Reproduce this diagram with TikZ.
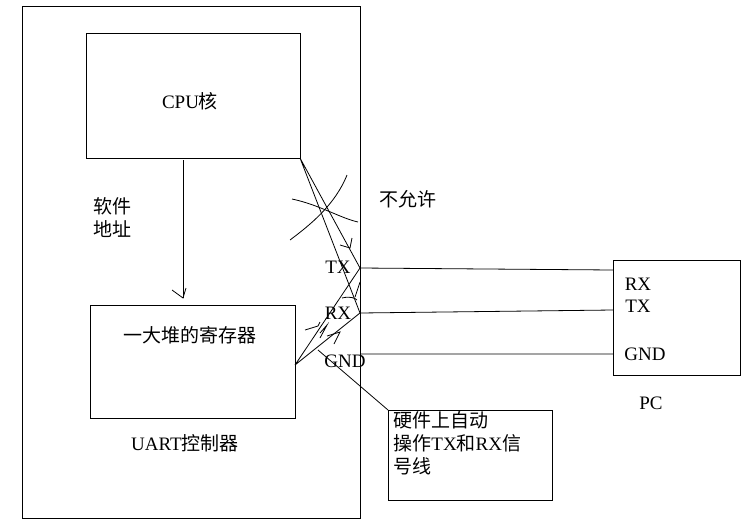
\documentclass[tikz,border=0pt]{standalone}
\usepackage{fontspec}
\setmainfont{Liberation Serif}
\newfontfamily\cjk{Noto Sans CJK SC}
\begin{document}
\begin{tikzpicture}[x=1pt,y=-1pt,line width=0.8pt,
 lbl/.style={font=\fontsize{19}{23}\selectfont,inner sep=0pt},
 bx/.style={draw,fill=white}]
\useasboundingbox (0,0) rectangle (754,525);
\draw (22,6) rectangle (360,518);
\node[bx,minimum width=214,minimum height=125,anchor=north west] (cpu) at (86,33) {};
\node[lbl] (cputxt) at (190,101) {CPU{\cjk 核}};
\node[bx,minimum width=205,minimum height=113,anchor=north west] (reg) at (90,305) {};
\node[lbl] (regtxt) at (190,335) {\cjk 一大堆的寄存器};
\node[lbl] (uart) at (185,443) {UART{\cjk 控制器}};
\node[lbl,align=left] (sw) at (112,218) {\cjk 软件\\\cjk 地址};
\node[lbl] (no) at (408,199) {\cjk 不允许};
\coordinate (cc) at (300,158);
\coordinate (tx) at (360,268);
\coordinate (rx) at (360,313);
\coordinate (gnd) at (360,354);
\coordinate (rr) at (295,365);
\coordinate (a1) at (183,160);
\coordinate (a2) at (183,298);
\draw (a1) -- (a2);
\draw (172,290) -- (183,298) -- (186,288);
\draw (cc) -- (tx) (cc) -- (rx) (rr) -- (tx) (rr) -- (rx);
\draw (292,199) .. controls (320,205) and (340,218) .. (358,222);
\draw (347,175) .. controls (335,205) and (310,225) .. (290,240);
\draw (340,245) -- (350,248) -- (352,238);
\draw (360,282) -- (355,297);
\draw (342,298) .. controls (350,296) and (355,298) .. (357,300);
\draw (305,330) -- (318,326) -- (320,322);
\draw (320,333) -- (327,325) -- (320,338);
\draw (327,336) -- (340,332) -- (334,344);
\node[bx,minimum width=127,minimum height=115,anchor=north west] (pc) at (613,260) {};
\draw (tx) -- (613,270) (rx) -- (613,310) (gnd) -- (613,354);
\node[lbl] (ptx) at (338,267) {TX};
\node[lbl] (prx) at (338,313) {RX};
\node[lbl] (pgnd) at (345,361) {GND};
\node[lbl] (crx) at (638,284) {RX};
\node[lbl] (ctx) at (638,306) {TX};
\node[lbl] (cgnd) at (645,354) {GND};
\node[lbl] (pcl) at (651,403) {PC};
\node[draw,minimum width=164,minimum height=90,anchor=north west] (hw) at (388,410) {};
\node[lbl,align=left,anchor=north west] (hwt) at (393,411) {{\cjk 硬件上自动}\\{\cjk 操作}TX{\cjk 和}RX{\cjk 信}\\{\cjk 号线}};
\draw (318,350) -- (hw.north west);
\end{tikzpicture}
\end{document}
